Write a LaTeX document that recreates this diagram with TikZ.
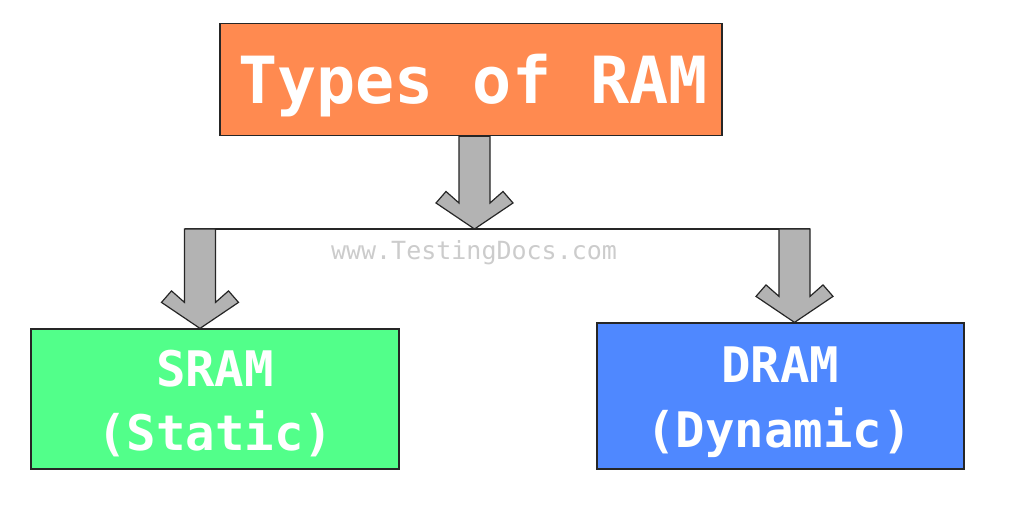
\documentclass[tikz,border=0pt]{standalone}
\usepackage{fontspec}
\setmonofont{DejaVu Sans Mono}
\usetikzlibrary{calc}
\definecolor{orangebox}{HTML}{FF8A50}
\definecolor{greenbox}{HTML}{52FF8A}
\definecolor{bluebox}{HTML}{4F88FF}
\definecolor{arrowgrey}{HTML}{B3B3B3}
\definecolor{wmgrey}{HTML}{CCCCCC}
\newcommand\blkarrow[2]{%
  \filldraw[blockarrow]
    ($(#1)+(-15.5,0)$) -- ($(#2)+(-15.5,-26)$) -- ($(#2)+(-28.5,-37.5)$) --
    ($(#2)+(-38.5,-26)$) -- (#2) -- ($(#2)+(38.5,-26)$) -- ($(#2)+(28.5,-37.5)$) --
    ($(#2)+(15.5,-26)$) -- ($(#1)+(15.5,0)$) -- cycle;}
\begin{document}
\begin{tikzpicture}[x=1pt,y=-1pt,
  box/.style={draw=black!85, line width=1.2pt, inner sep=0pt, rectangle},
  boxtext/.style={anchor=base, text=white, font=\ttfamily\bfseries, inner sep=0pt},
  blockarrow/.style={fill=arrowgrey, draw=black!85, line width=1.2pt, line join=miter},
  branch/.style={draw=black!85, line width=1.2pt}]
\useasboundingbox (0,0) rectangle (1024,526);
\fill[white] (0,0) rectangle (1024,526);

\node[box, fill=orangebox, minimum width=502pt, minimum height=112pt] (top) at (471,79.8) {};
\node[boxtext, font=\ttfamily\bfseries\fontsize{65}{70}\selectfont] (toptxt) at (473,104) {Types of RAM};

\node[box, fill=greenbox, minimum width=368pt, minimum height=140pt] (sram) at (215,399) {};
\node[boxtext, font=\ttfamily\bfseries\fontsize{49}{60}\selectfont] (sram1) at (215,386) {SRAM};
\node[boxtext, font=\ttfamily\bfseries\fontsize{49}{60}\selectfont] (sram2) at (215.5,450) {(Static)};

\node[box, fill=bluebox, minimum width=367pt, minimum height=146pt] (dram) at (780.5,396) {};
\node[boxtext, font=\ttfamily\bfseries\fontsize{49}{60}\selectfont] (dram1) at (780,382) {DRAM};
\node[boxtext, font=\ttfamily\bfseries\fontsize{49}{60}\selectfont] (dram2) at (779,447) {(Dynamic)};

\node[anchor=base, text=wmgrey, font=\ttfamily\fontsize{25}{30}\selectfont, inner sep=0pt] (wm) at (474,260) {www.TestingDocs.com};

\coordinate (topstart) at (top.south -| 474.5,0);
\coordinate (mid) at (474.5,229);
\coordinate (lstart) at (200,229);
\coordinate (rstart) at (794.5,229);
\coordinate (ltip) at (sram.north -| lstart);
\coordinate (rtip) at (dram.north -| rstart);

\draw[branch] ($(lstart)+(-15.5,0)$) -- ($(rstart)+(15.5,0)$);
\blkarrow{topstart}{mid}
\blkarrow{lstart}{ltip}
\blkarrow{rstart}{rtip}
\end{tikzpicture}
\end{document}
